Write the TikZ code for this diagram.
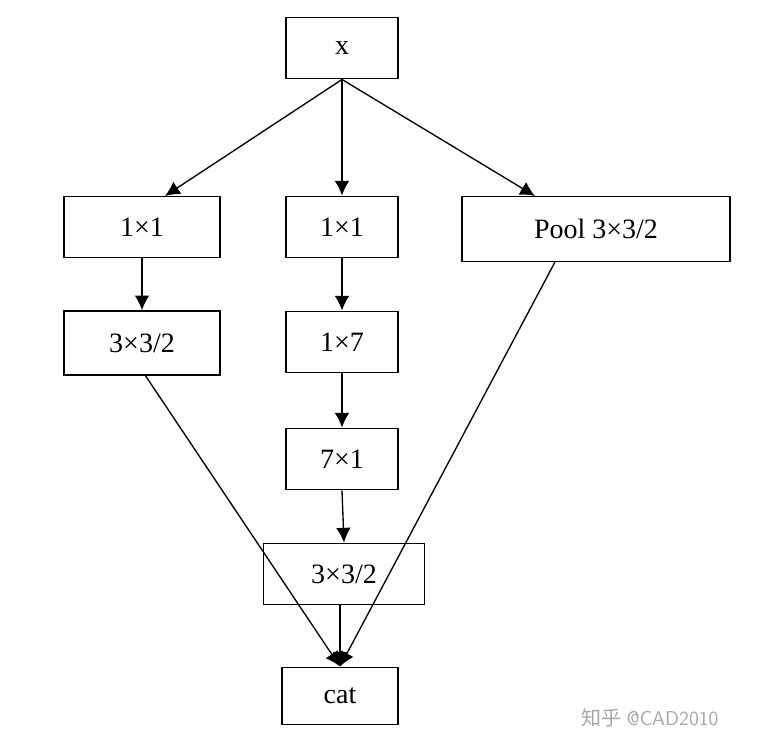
\documentclass[tikz,border=0pt]{standalone}
\usepackage{fontspec}
\setmainfont{Liberation Serif}
\newfontfamily\cjk{Noto Sans CJK SC}
\usetikzlibrary{arrows.meta}
\begin{document}
\begin{tikzpicture}[x=0.75pt,y=-0.75pt,
  box/.style={draw,line width=1.2pt,minimum height=46pt,inner sep=0pt,font=\fontsize{21}{25}\selectfont},
  arr/.style={line width=1pt,-{Latex[length=11pt,width=11pt]}},
  ln/.style={line width=1pt}]
\useasboundingbox (0,0) rectangle (758,737);
\node[box,minimum width=84pt] (x) at (342,48) {x};
\node[box,minimum width=117pt] (a1) at (142,227) {1×1};
\node[box,minimum width=84pt] (b1) at (342,227) {1×1};
\node[box,minimum width=201pt,minimum height=49pt] (p) at (596,229) {Pool 3×3/2};
\node[box,minimum width=117pt,minimum height=48pt] (a2) at (142,343) {3×3/2};
\node[box,minimum width=84pt] (b2) at (342,342) {1×7};
\node[box,minimum width=84pt] (b3) at (342,459) {7×1};
\node[box,minimum width=121pt] (b4) at (344,574) {3×3/2};
\node[box,minimum width=87pt,minimum height=43pt] (c) at (340,696) {cat};
\draw[arr] (x.south) -- (165,196) coordinate (t1);
\draw[arr] (x.south) -- (b1.north);
\draw[arr] (x.south) -- (535,196);
\draw[arr] (a1.south) -- (a2.north);
\draw[arr] (b1.south) -- (b2.north);
\draw[arr] (b2.south) -- (b3.north);
\draw[arr] (b3.south) -- (b4.north);
\draw[arr] (b4.south -| c.north) -- (c.north);
\draw[arr] (145,375) -- (c.north);
\draw[arr] (555,262) -- (c.north);
\node[text=gray!70,font=\fontsize{15}{18}\selectfont] (w) at (650,718) {{\cjk 知乎} \sffamily @CAD2010};
\end{tikzpicture}
\end{document}
